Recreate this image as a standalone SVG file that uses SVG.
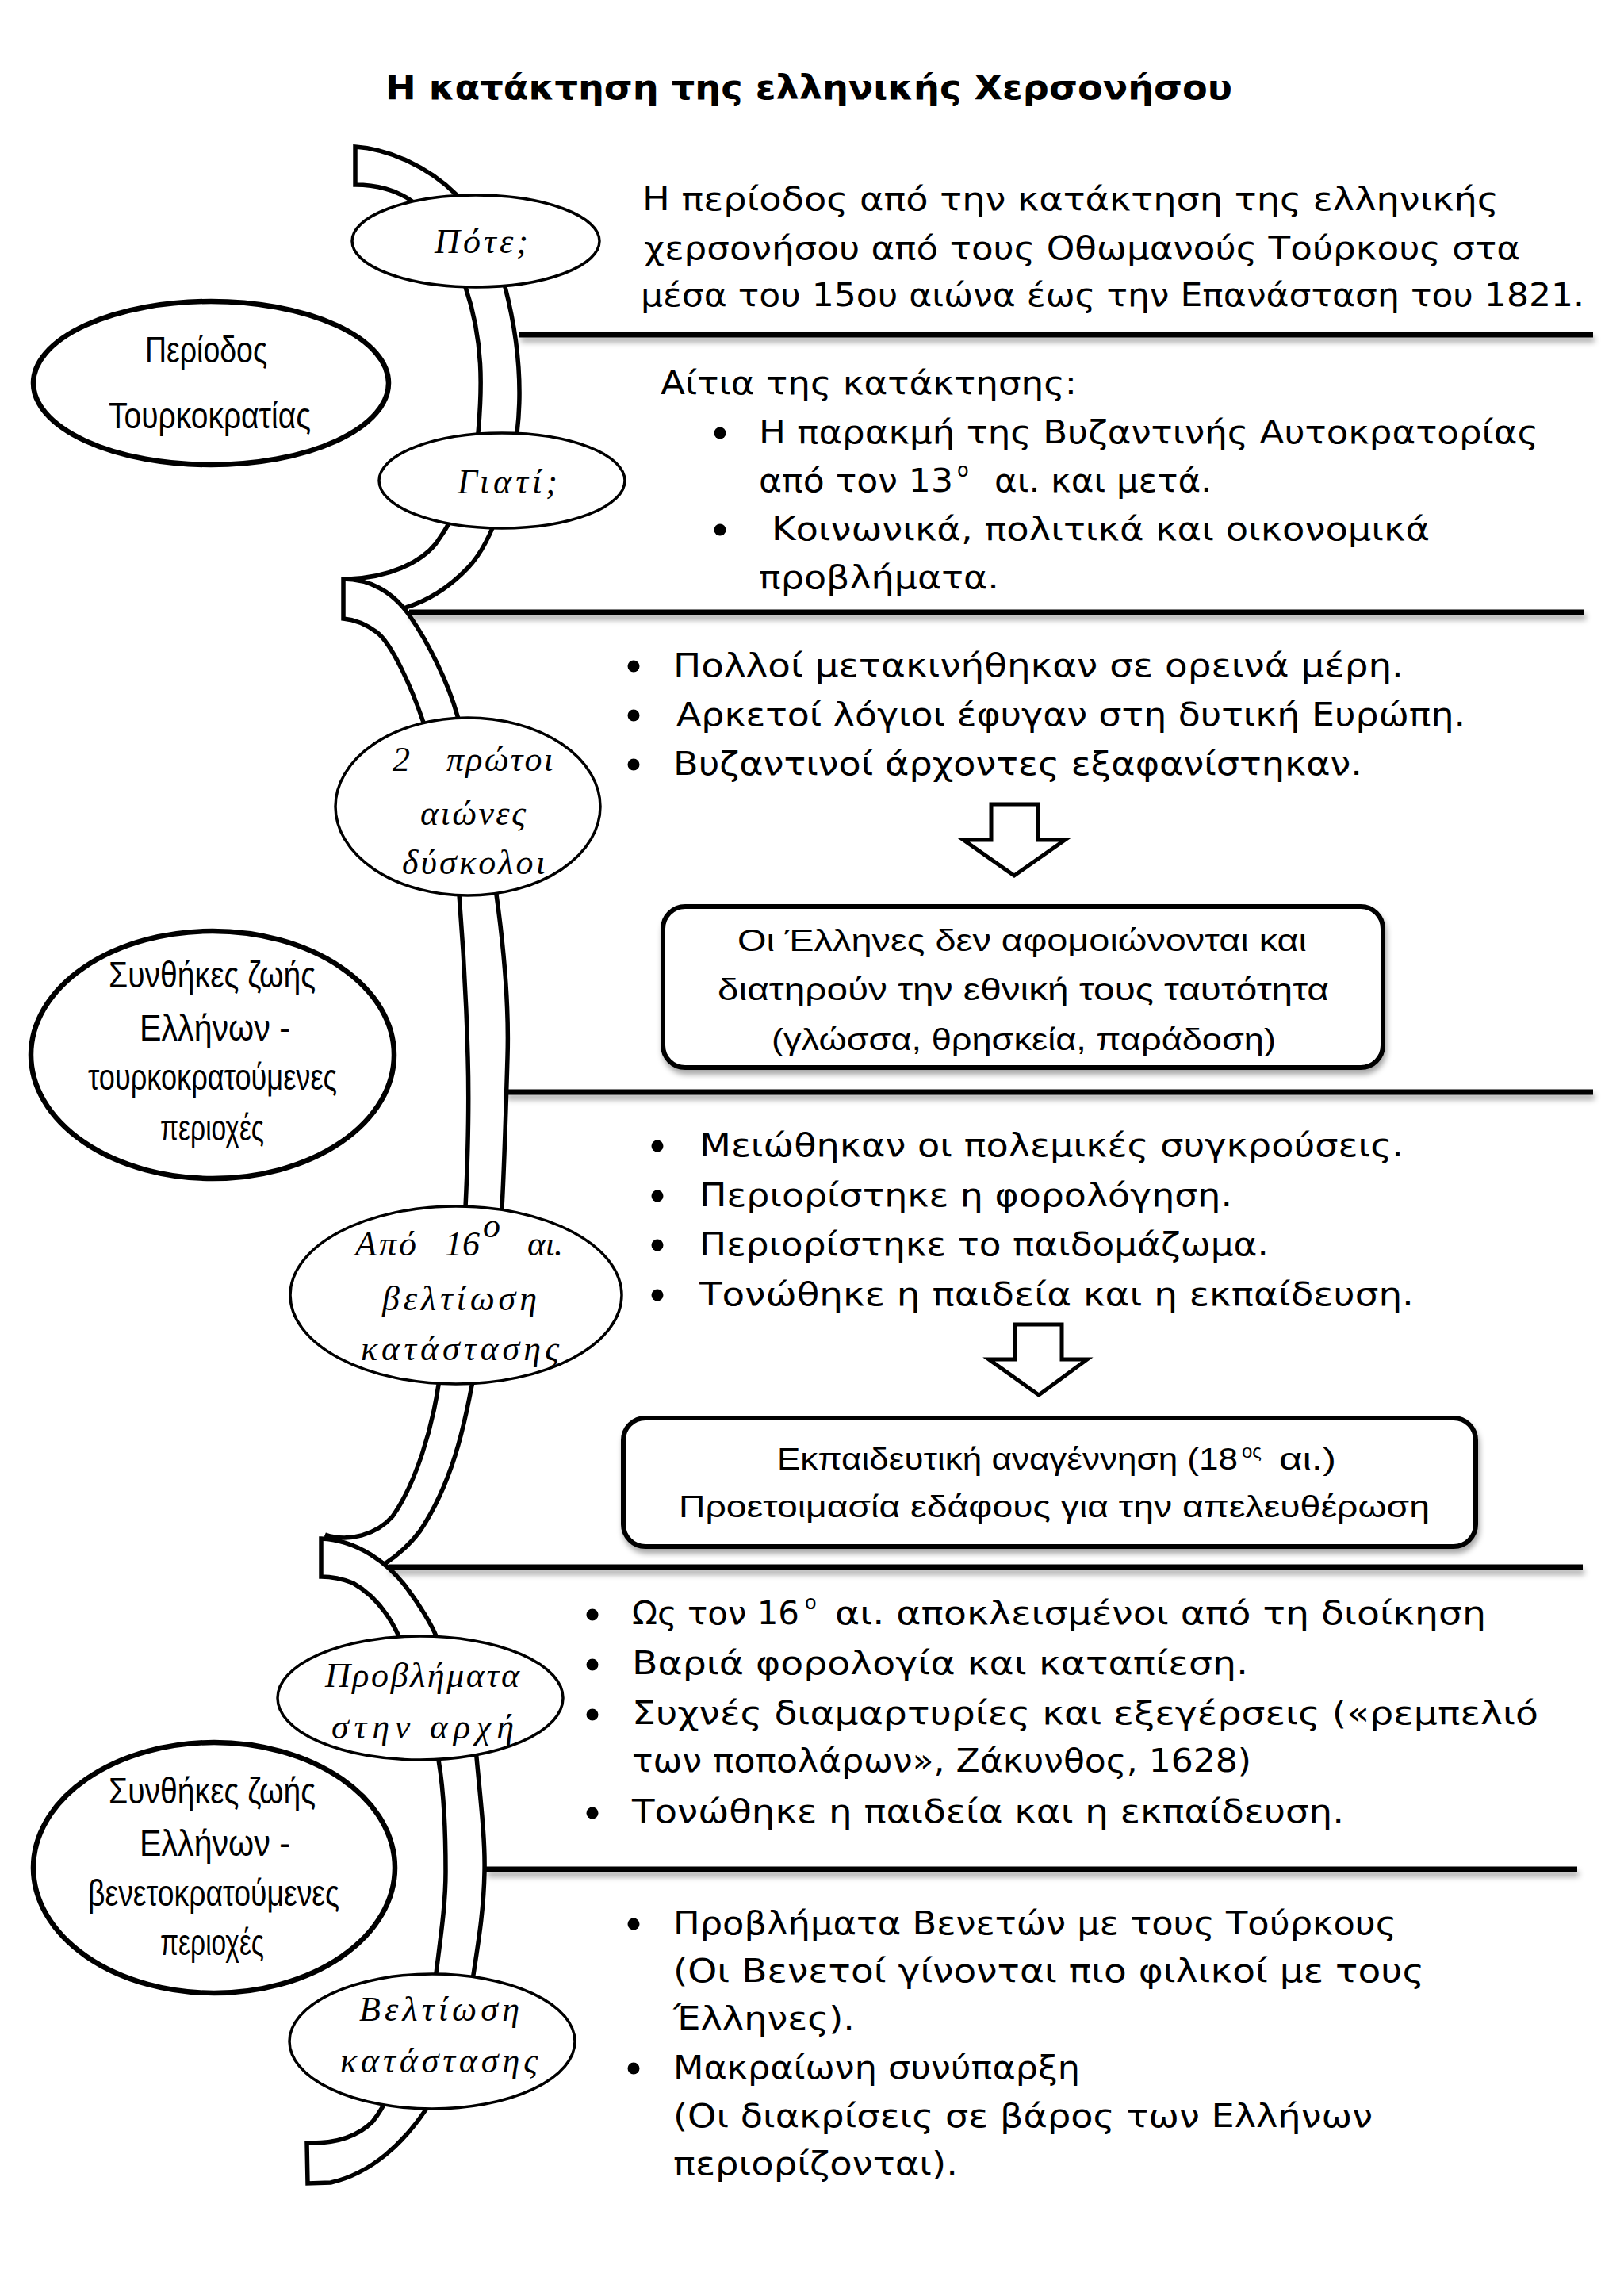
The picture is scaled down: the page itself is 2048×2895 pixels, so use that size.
<svg xmlns="http://www.w3.org/2000/svg" width="2048" height="2895" viewBox="0 0 2048 2895">
<style>
.t{font-family:"DejaVu Sans","Noto Sans",sans-serif;font-weight:bold;font-size:42px;fill:#000}
.b{font-family:"DejaVu Sans","Noto Sans",sans-serif;font-size:40px;fill:#000}
.bs{font-family:"DejaVu Sans","Noto Sans",sans-serif;font-size:24px;fill:#000}
.e{font-family:"Liberation Serif","DejaVu Serif",serif;font-style:italic;font-size:44px;fill:#000}
.l{font-family:"Liberation Sans","DejaVu Sans",sans-serif;font-size:46px;fill:#000}
.x{font-family:"Liberation Sans","DejaVu Sans",sans-serif;font-size:38px;fill:#000}
.xs{font-family:"Liberation Sans","DejaVu Sans",sans-serif;font-size:24px;fill:#000}
.rib{fill:#fff;stroke:#000;stroke-width:5.5;stroke-linejoin:miter;stroke-miterlimit:3}
.te{fill:#fff;stroke:#000;stroke-width:3.5}
.be{fill:#fff;stroke:#000;stroke-width:6.5}
.div{fill:#000}
.arr{fill:#fff;stroke:#000;stroke-width:5;stroke-linejoin:miter}
.box{fill:#fff;stroke:#000;stroke-width:6}
.dot{fill:#000}
</style>
<defs>
<filter id="sh" filterUnits="userSpaceOnUse" x="0" y="0" width="2048" height="2895">
<feDropShadow dx="2" dy="6" stdDeviation="3.5" flood-color="#000" flood-opacity="0.35"/>
</filter>
</defs>
<rect x="0" y="0" width="2048" height="2895" fill="#fff"/>

<text class="t" x="486" y="125" textLength="1068" lengthAdjust="spacingAndGlyphs">Η κατάκτηση της ελληνικής Χερσονήσου</text>

<g id="connectors">
<path class="rib" d="M448,185 C490,188 540,210 575,245 C610,280 630,320 637,362 C652,420 660,480 652,546 C645,600 625,680 590,716 C565,742 535,760 505,768 L440,730 C490,728 530,710 550,685 C575,650 600,600 603,546 C608,490 610,430 587,362 C570,310 545,270 517,252 C500,240 475,233 448,233 Z"/>
<path class="rib" d="M433,730 C465,730 495,745 517,777 C540,810 565,860 577,903 C600,980 622,1060 626,1128 C636,1200 642,1270 640,1333 C638,1400 636,1470 633,1523 C628,1600 610,1690 595,1747 C585,1800 570,1870 530,1930 C515,1950 500,1962 485,1972 L410,1935 C440,1945 475,1935 495,1912 C525,1870 545,1800 553,1746 C565,1680 585,1600 587,1522 C590,1460 592,1400 590,1333 C588,1260 584,1190 579,1128 C570,1040 555,960 533,908 C520,870 495,812 475,797 C460,786 445,781 433,780 Z"/>
<path class="rib" d="M405,1940 C450,1942 490,1970 515,2005 C530,2025 545,2050 550,2063 C575,2110 598,2160 601,2216 C606,2270 612,2320 611,2360 C610,2410 603,2450 597,2490 C585,2560 565,2620 537,2660 C510,2700 470,2740 417,2752 L388,2753 L387,2702 C420,2703 450,2695 470,2675 C490,2650 505,2610 515,2570 C530,2540 545,2510 550,2488 C556,2440 562,2400 562,2360 C562,2310 560,2260 553,2219 C540,2150 520,2100 503,2063 C490,2035 470,2010 445,1996 C430,1990 418,1988 405,1988 Z"/>
<g filter="url(#sh)">
<rect class="div" x="655" y="418.5" width="1354" height="7"/>
<rect class="div" x="516" y="768.5" width="1482" height="7"/>
<rect class="div" x="637" y="1373.5" width="1372" height="7"/>
<rect class="div" x="490" y="1972.5" width="1506" height="7"/>
<rect class="div" x="613" y="2353.5" width="1376" height="7"/>
</g>
<polygon class="arr" points="1250,1014 1309,1014 1309,1059 1343,1059 1279,1104 1215,1059 1250,1059"/>
<polygon class="arr" points="1280,1670 1339,1670 1339,1714 1371,1714 1310,1759 1247,1714 1280,1714"/>
</g>

<g id="node-periodos">
<ellipse class="be" cx="266" cy="483" rx="224" ry="103"/>
<text class="l" x="183" y="457" textLength="154" lengthAdjust="spacingAndGlyphs">Περίοδος</text>
<text class="l" x="137" y="540" textLength="255" lengthAdjust="spacingAndGlyphs">Τουρκοκρατίας</text>
</g>

<g id="node-synthikes-tourko">
<ellipse class="be" cx="268" cy="1330" rx="229" ry="156"/>
<text class="l" x="137" y="1245" textLength="261" lengthAdjust="spacingAndGlyphs">Συνθήκες ζωής</text>
<text class="l" x="176" y="1312" textLength="190" lengthAdjust="spacingAndGlyphs">Ελλήνων -</text>
<text class="l" x="111" y="1374" textLength="314" lengthAdjust="spacingAndGlyphs">τουρκοκρατούμενες</text>
<text class="l" x="202" y="1438" textLength="131" lengthAdjust="spacingAndGlyphs">περιοχές</text>
</g>

<g id="node-synthikes-veneto">
<ellipse class="be" cx="270" cy="2355" rx="228" ry="158"/>
<text class="l" x="137" y="2274" textLength="261" lengthAdjust="spacingAndGlyphs">Συνθήκες ζωής</text>
<text class="l" x="176" y="2340" textLength="190" lengthAdjust="spacingAndGlyphs">Ελλήνων -</text>
<text class="l" x="111" y="2403" textLength="317" lengthAdjust="spacingAndGlyphs">βενετοκρατούμενες</text>
<text class="l" x="202" y="2465" textLength="131" lengthAdjust="spacingAndGlyphs">περιοχές</text>
</g>

<g id="node-pote">
<ellipse class="te" cx="600" cy="304" rx="156" ry="58"/>
<text class="e" x="548" y="319" textLength="118" lengthAdjust="spacing">Πότε;</text>
</g>

<g id="node-giati">
<ellipse class="te" cx="633" cy="606" rx="155" ry="60"/>
<text class="e" x="577" y="622" textLength="126" lengthAdjust="spacing">Γιατί;</text>
</g>

<g id="node-protoi">
<ellipse class="te" cx="590" cy="1017" rx="167" ry="112"/>
<text class="e" x="495" y="972" font-size="54">2</text>
<text class="e" x="563" y="972" textLength="135" lengthAdjust="spacing">πρώτοι</text>
<text class="e" x="530" y="1040" textLength="133" lengthAdjust="spacing">αιώνες</text>
<text class="e" x="507" y="1102" textLength="181" lengthAdjust="spacing">δύσκολοι</text>
</g>

<g id="node-apo16">
<ellipse class="te" cx="575" cy="1633" rx="209" ry="112"/>
<text class="e" x="448" y="1583" textLength="77" lengthAdjust="spacing">Από</text>
<text class="e" x="561" y="1583" font-size="54" textLength="44" lengthAdjust="spacingAndGlyphs">16</text>
<text class="e" x="609" y="1560" font-size="22">ο</text>
<text class="e" x="665" y="1583" textLength="45" lengthAdjust="spacing">αι.</text>
<text class="e" x="482" y="1652" textLength="195" lengthAdjust="spacing">βελτίωση</text>
<text class="e" x="455" y="1715" textLength="250" lengthAdjust="spacing">κατάστασης</text>
</g>

<g id="node-provlimata">
<ellipse class="te" cx="530" cy="2141" rx="180" ry="78"/>
<text class="e" x="410" y="2127" textLength="245" lengthAdjust="spacing">Προβλήματα</text>
<text class="e" x="418" y="2192" textLength="230" lengthAdjust="spacing">στην  αρχή</text>
</g>

<g id="node-veltiosi">
<ellipse class="te" cx="545" cy="2574" rx="180" ry="85"/>
<text class="e" x="453" y="2548" textLength="202" lengthAdjust="spacing">Βελτίωση</text>
<text class="e" x="429" y="2613" textLength="249" lengthAdjust="spacing">κατάστασης</text>
</g>

<g id="text-pote">
<text class="b" x="810" y="265" textLength="1080" lengthAdjust="spacingAndGlyphs">Η περίοδος από την κατάκτηση της ελληνικής</text>
<text class="b" x="812" y="327" textLength="1105" lengthAdjust="spacingAndGlyphs">χερσονήσου από τους Οθωμανούς Τούρκους στα</text>
<text class="b" x="808" y="386" textLength="1190" lengthAdjust="spacingAndGlyphs">μέσα του 15ου αιώνα έως την Επανάσταση του 1821.</text>
</g>

<g id="text-giati">
<text class="b" x="833" y="497" textLength="525" lengthAdjust="spacingAndGlyphs">Αίτια της κατάκτησης:</text>
<circle class="dot" cx="908" cy="546" r="7.5"/>
<text class="b" x="957" y="559" textLength="983" lengthAdjust="spacingAndGlyphs">Η παρακμή της Βυζαντινής Αυτοκρατορίας</text>
<text class="b" x="957" y="620" textLength="245" lengthAdjust="spacingAndGlyphs">από τον 13</text>
<text class="bs" x="1207" y="601">ο</text>
<text class="b" x="1254" y="620" textLength="274" lengthAdjust="spacingAndGlyphs">αι. και μετά.</text>
<circle class="dot" cx="908" cy="668" r="7.5"/>
<text class="b" x="973" y="681" textLength="830" lengthAdjust="spacingAndGlyphs">Κοινωνικά, πολιτικά και οικονομικά</text>
<text class="b" x="957" y="742" textLength="303" lengthAdjust="spacingAndGlyphs">προβλήματα.</text>
</g>

<g id="text-protoi">
<circle class="dot" cx="799" cy="840" r="7.5"/>
<text class="b" x="849" y="853" textLength="921" lengthAdjust="spacingAndGlyphs">Πολλοί μετακινήθηκαν σε ορεινά μέρη.</text>
<circle class="dot" cx="799" cy="902" r="7.5"/>
<text class="b" x="853" y="915" textLength="995" lengthAdjust="spacingAndGlyphs">Αρκετοί λόγιοι έφυγαν στη δυτική Ευρώπη.</text>
<circle class="dot" cx="799" cy="964" r="7.5"/>
<text class="b" x="849" y="977" textLength="869" lengthAdjust="spacingAndGlyphs">Βυζαντινοί άρχοντες εξαφανίστηκαν.</text>
</g>

<g id="box-tautotita">
<rect class="box" x="836" y="1143" width="908" height="203" rx="28" filter="url(#sh)"/>
<text class="x" x="930" y="1199" textLength="718" lengthAdjust="spacingAndGlyphs">Οι Έλληνες δεν αφομοιώνονται και</text>
<text class="x" x="905" y="1261" textLength="771" lengthAdjust="spacingAndGlyphs">διατηρούν την εθνική τους ταυτότητα</text>
<text class="x" x="973" y="1324" textLength="636" lengthAdjust="spacingAndGlyphs">(γλώσσα, θρησκεία, παράδοση)</text>
</g>

<g id="text-apo16">
<circle class="dot" cx="829" cy="1445" r="7.5"/>
<text class="b" x="882" y="1458" textLength="888" lengthAdjust="spacingAndGlyphs">Μειώθηκαν οι πολεμικές συγκρούσεις.</text>
<circle class="dot" cx="829" cy="1508" r="7.5"/>
<text class="b" x="882" y="1521" textLength="672" lengthAdjust="spacingAndGlyphs">Περιορίστηκε η φορολόγηση.</text>
<circle class="dot" cx="829" cy="1570" r="7.5"/>
<text class="b" x="882" y="1583" textLength="718" lengthAdjust="spacingAndGlyphs">Περιορίστηκε το παιδομάζωμα.</text>
<circle class="dot" cx="829" cy="1633" r="7.5"/>
<text class="b" x="882" y="1646" textLength="901" lengthAdjust="spacingAndGlyphs">Τονώθηκε η παιδεία και η εκπαίδευση.</text>
</g>

<g id="box-anagennisi">
<rect class="box" x="786" y="1788" width="1075" height="162" rx="28" filter="url(#sh)"/>
<text class="x" x="980" y="1853" textLength="581" lengthAdjust="spacingAndGlyphs">Εκπαιδευτική αναγέννηση (18</text>
<text class="xs" x="1566" y="1838">ος</text>
<text class="x" x="1613" y="1853" textLength="72" lengthAdjust="spacingAndGlyphs">αι.)</text>
<text class="x" x="856" y="1913" textLength="947" lengthAdjust="spacingAndGlyphs">Προετοιμασία εδάφους για την απελευθέρωση</text>
</g>

<g id="text-provlimata">
<circle class="dot" cx="747" cy="2036" r="7.5"/>
<text class="b" x="797" y="2048" textLength="211" lengthAdjust="spacingAndGlyphs">Ως τον 16</text>
<text class="bs" x="1015" y="2029">ο</text>
<text class="b" x="1053" y="2048" textLength="821" lengthAdjust="spacingAndGlyphs">αι. αποκλεισμένοι από τη διοίκηση</text>
<circle class="dot" cx="747" cy="2099" r="7.5"/>
<text class="b" x="797" y="2111" textLength="777" lengthAdjust="spacingAndGlyphs">Βαριά φορολογία και καταπίεση.</text>
<circle class="dot" cx="747" cy="2162" r="7.5"/>
<text class="b" x="797" y="2174" textLength="1143" lengthAdjust="spacingAndGlyphs">Συχνές διαμαρτυρίες και εξεγέρσεις («ρεμπελιό</text>
<text class="b" x="797" y="2234" textLength="781" lengthAdjust="spacingAndGlyphs">των ποπολάρων», Ζάκυνθος, 1628)</text>
<circle class="dot" cx="747" cy="2286" r="7.5"/>
<text class="b" x="797" y="2298" textLength="898" lengthAdjust="spacingAndGlyphs">Τονώθηκε η παιδεία και η εκπαίδευση.</text>
</g>

<g id="text-veltiosi">
<circle class="dot" cx="799" cy="2426" r="7.5"/>
<text class="b" x="849" y="2439" textLength="912" lengthAdjust="spacingAndGlyphs">Προβλήματα Βενετών με τους Τούρκους</text>
<text class="b" x="849" y="2499" textLength="947" lengthAdjust="spacingAndGlyphs">(Οι Βενετοί γίνονται πιο φιλικοί με τους</text>
<text class="b" x="849" y="2559" textLength="229" lengthAdjust="spacingAndGlyphs">Έλληνες).</text>
<circle class="dot" cx="799" cy="2608" r="7.5"/>
<text class="b" x="849" y="2621" textLength="513" lengthAdjust="spacingAndGlyphs">Μακραίωνη συνύπαρξη</text>
<text class="b" x="849" y="2682" textLength="882" lengthAdjust="spacingAndGlyphs">(Οι διακρίσεις σε βάρος των Ελλήνων</text>
<text class="b" x="849" y="2742" textLength="359" lengthAdjust="spacingAndGlyphs">περιορίζονται).</text>
</g>
</svg>
